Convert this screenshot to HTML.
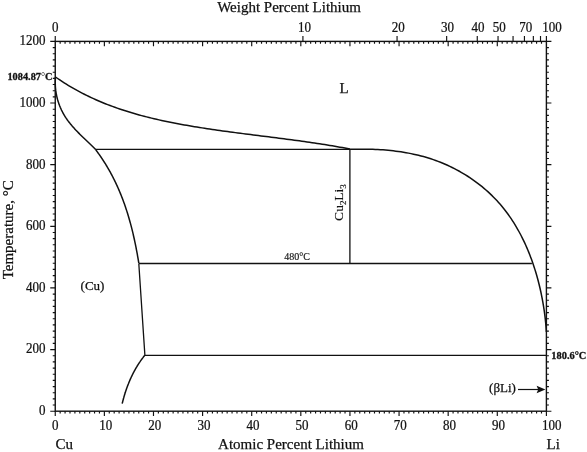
<!DOCTYPE html><html><head><meta charset="utf-8"><style>html,body{margin:0;padding:0;background:#fff;}svg{display:block;}text{font-family:"Liberation Serif", "Times New Roman", serif;fill:#111;}</style></head><body>
<svg width="587" height="452" viewBox="0 0 587 452">
<rect width="587" height="452" fill="#fff"/>
<g>
<path d="M55.25 411.20v4.80 M60.16 411.20v2.40 M60.16 41.40v2.40 M65.07 411.20v2.40 M65.07 41.40v2.40 M69.98 411.20v2.40 M69.98 41.40v2.40 M74.90 411.20v2.40 M74.90 41.40v2.40 M79.81 411.20v2.40 M79.81 41.40v2.40 M84.72 411.20v2.40 M84.72 41.40v2.40 M89.63 411.20v2.40 M89.63 41.40v2.40 M94.54 411.20v2.40 M94.54 41.40v2.40 M99.45 411.20v2.40 M99.45 41.40v2.40 M104.37 411.20v4.80 M104.37 41.40v4.80 M109.28 411.20v2.40 M109.28 41.40v2.40 M114.19 411.20v2.40 M114.19 41.40v2.40 M119.10 411.20v2.40 M119.10 41.40v2.40 M124.01 411.20v2.40 M124.01 41.40v2.40 M128.92 411.20v2.40 M128.92 41.40v2.40 M133.83 411.20v2.40 M133.83 41.40v2.40 M138.75 411.20v2.40 M138.75 41.40v2.40 M143.66 411.20v2.40 M143.66 41.40v2.40 M148.57 411.20v2.40 M148.57 41.40v2.40 M153.48 411.20v4.80 M153.48 41.40v4.80 M158.39 411.20v2.40 M158.39 41.40v2.40 M163.30 411.20v2.40 M163.30 41.40v2.40 M168.21 411.20v2.40 M168.21 41.40v2.40 M173.13 411.20v2.40 M173.13 41.40v2.40 M178.04 411.20v2.40 M178.04 41.40v2.40 M182.95 411.20v2.40 M182.95 41.40v2.40 M187.86 411.20v2.40 M187.86 41.40v2.40 M192.77 411.20v2.40 M192.77 41.40v2.40 M197.68 411.20v2.40 M197.68 41.40v2.40 M202.59 411.20v4.80 M202.59 41.40v4.80 M207.51 411.20v2.40 M207.51 41.40v2.40 M212.42 411.20v2.40 M212.42 41.40v2.40 M217.33 411.20v2.40 M217.33 41.40v2.40 M222.24 411.20v2.40 M222.24 41.40v2.40 M227.15 411.20v2.40 M227.15 41.40v2.40 M232.06 411.20v2.40 M232.06 41.40v2.40 M236.98 411.20v2.40 M236.98 41.40v2.40 M241.89 411.20v2.40 M241.89 41.40v2.40 M246.80 411.20v2.40 M246.80 41.40v2.40 M251.71 411.20v4.80 M251.71 41.40v4.80 M256.62 411.20v2.40 M256.62 41.40v2.40 M261.53 411.20v2.40 M261.53 41.40v2.40 M266.44 411.20v2.40 M266.44 41.40v2.40 M271.36 411.20v2.40 M271.36 41.40v2.40 M276.27 411.20v2.40 M276.27 41.40v2.40 M281.18 411.20v2.40 M281.18 41.40v2.40 M286.09 411.20v2.40 M286.09 41.40v2.40 M291.00 411.20v2.40 M291.00 41.40v2.40 M295.91 411.20v2.40 M295.91 41.40v2.40 M300.82 411.20v4.80 M300.82 41.40v4.80 M305.74 411.20v2.40 M305.74 41.40v2.40 M310.65 411.20v2.40 M310.65 41.40v2.40 M315.56 411.20v2.40 M315.56 41.40v2.40 M320.47 411.20v2.40 M320.47 41.40v2.40 M325.38 411.20v2.40 M325.38 41.40v2.40 M330.29 411.20v2.40 M330.29 41.40v2.40 M335.21 411.20v2.40 M335.21 41.40v2.40 M340.12 411.20v2.40 M340.12 41.40v2.40 M345.03 411.20v2.40 M345.03 41.40v2.40 M349.94 411.20v4.80 M349.94 41.40v4.80 M354.85 411.20v2.40 M354.85 41.40v2.40 M359.76 411.20v2.40 M359.76 41.40v2.40 M364.67 411.20v2.40 M364.67 41.40v2.40 M369.59 411.20v2.40 M369.59 41.40v2.40 M374.50 411.20v2.40 M374.50 41.40v2.40 M379.41 411.20v2.40 M379.41 41.40v2.40 M384.32 411.20v2.40 M384.32 41.40v2.40 M389.23 411.20v2.40 M389.23 41.40v2.40 M394.14 411.20v2.40 M394.14 41.40v2.40 M399.06 411.20v4.80 M399.06 41.40v4.80 M403.97 411.20v2.40 M403.97 41.40v2.40 M408.88 411.20v2.40 M408.88 41.40v2.40 M413.79 411.20v2.40 M413.79 41.40v2.40 M418.70 411.20v2.40 M418.70 41.40v2.40 M423.61 411.20v2.40 M423.61 41.40v2.40 M428.52 411.20v2.40 M428.52 41.40v2.40 M433.44 411.20v2.40 M433.44 41.40v2.40 M438.35 411.20v2.40 M438.35 41.40v2.40 M443.26 411.20v2.40 M443.26 41.40v2.40 M448.17 411.20v4.80 M448.17 41.40v4.80 M453.08 411.20v2.40 M453.08 41.40v2.40 M457.99 411.20v2.40 M457.99 41.40v2.40 M462.90 411.20v2.40 M462.90 41.40v2.40 M467.82 411.20v2.40 M467.82 41.40v2.40 M472.73 411.20v2.40 M472.73 41.40v2.40 M477.64 411.20v2.40 M477.64 41.40v2.40 M482.55 411.20v2.40 M482.55 41.40v2.40 M487.46 411.20v2.40 M487.46 41.40v2.40 M492.37 411.20v2.40 M492.37 41.40v2.40 M497.29 411.20v4.80 M497.29 41.40v4.80 M502.20 411.20v2.40 M502.20 41.40v2.40 M507.11 411.20v2.40 M507.11 41.40v2.40 M512.02 411.20v2.40 M512.02 41.40v2.40 M516.93 411.20v2.40 M516.93 41.40v2.40 M521.84 411.20v2.40 M521.84 41.40v2.40 M526.75 411.20v2.40 M526.75 41.40v2.40 M531.67 411.20v2.40 M531.67 41.40v2.40 M536.58 411.20v2.40 M536.58 41.40v2.40 M541.49 411.20v2.40 M541.49 41.40v2.40 M546.40 411.20v4.80 M55.25 41.40v-5.40 M302.92 41.40v-5.40 M397.06 41.40v-5.40 M446.65 41.40v-5.40 M477.26 41.40v-5.40 M498.04 41.40v-5.40 M513.06 41.40v-5.40 M524.44 41.40v-5.40 M533.34 41.40v-5.40 M540.51 41.40v-5.40 M546.40 41.40v-5.40 M55.25 411.20h-5.00 M546.40 411.20h5.00 M55.25 405.04h-2.50 M546.40 405.04h2.50 M55.25 398.87h-2.50 M546.40 398.87h2.50 M55.25 392.71h-2.50 M546.40 392.71h2.50 M55.25 386.55h-2.50 M546.40 386.55h2.50 M55.25 380.38h-2.50 M546.40 380.38h2.50 M55.25 374.22h-2.50 M546.40 374.22h2.50 M55.25 368.06h-2.50 M546.40 368.06h2.50 M55.25 361.89h-2.50 M546.40 361.89h2.50 M55.25 355.73h-2.50 M546.40 355.73h2.50 M55.25 349.57h-5.00 M546.40 349.57h5.00 M55.25 343.40h-2.50 M546.40 343.40h2.50 M55.25 337.24h-2.50 M546.40 337.24h2.50 M55.25 331.08h-2.50 M546.40 331.08h2.50 M55.25 324.91h-2.50 M546.40 324.91h2.50 M55.25 318.75h-2.50 M546.40 318.75h2.50 M55.25 312.59h-2.50 M546.40 312.59h2.50 M55.25 306.42h-2.50 M546.40 306.42h2.50 M55.25 300.26h-2.50 M546.40 300.26h2.50 M55.25 294.10h-2.50 M546.40 294.10h2.50 M55.25 287.93h-5.00 M546.40 287.93h5.00 M55.25 281.77h-2.50 M546.40 281.77h2.50 M55.25 275.61h-2.50 M546.40 275.61h2.50 M55.25 269.44h-2.50 M546.40 269.44h2.50 M55.25 263.28h-2.50 M546.40 263.28h2.50 M55.25 257.12h-2.50 M546.40 257.12h2.50 M55.25 250.95h-2.50 M546.40 250.95h2.50 M55.25 244.79h-2.50 M546.40 244.79h2.50 M55.25 238.63h-2.50 M546.40 238.63h2.50 M55.25 232.46h-2.50 M546.40 232.46h2.50 M55.25 226.30h-5.00 M546.40 226.30h5.00 M55.25 220.14h-2.50 M546.40 220.14h2.50 M55.25 213.97h-2.50 M546.40 213.97h2.50 M55.25 207.81h-2.50 M546.40 207.81h2.50 M55.25 201.65h-2.50 M546.40 201.65h2.50 M55.25 195.48h-2.50 M546.40 195.48h2.50 M55.25 189.32h-2.50 M546.40 189.32h2.50 M55.25 183.16h-2.50 M546.40 183.16h2.50 M55.25 176.99h-2.50 M546.40 176.99h2.50 M55.25 170.83h-2.50 M546.40 170.83h2.50 M55.25 164.67h-5.00 M546.40 164.67h5.00 M55.25 158.50h-2.50 M546.40 158.50h2.50 M55.25 152.34h-2.50 M546.40 152.34h2.50 M55.25 146.18h-2.50 M546.40 146.18h2.50 M55.25 140.01h-2.50 M546.40 140.01h2.50 M55.25 133.85h-2.50 M546.40 133.85h2.50 M55.25 127.69h-2.50 M546.40 127.69h2.50 M55.25 121.52h-2.50 M546.40 121.52h2.50 M55.25 115.36h-2.50 M546.40 115.36h2.50 M55.25 109.20h-2.50 M546.40 109.20h2.50 M55.25 103.03h-5.00 M546.40 103.03h5.00 M55.25 96.87h-2.50 M546.40 96.87h2.50 M55.25 90.71h-2.50 M546.40 90.71h2.50 M55.25 84.54h-2.50 M546.40 84.54h2.50 M55.25 78.38h-2.50 M546.40 78.38h2.50 M55.25 72.22h-2.50 M546.40 72.22h2.50 M55.25 66.05h-2.50 M546.40 66.05h2.50 M55.25 59.89h-2.50 M546.40 59.89h2.50 M55.25 53.73h-2.50 M546.40 53.73h2.50 M55.25 47.56h-2.50 M546.40 47.56h2.50 M55.25 41.40h-5.00 M546.40 41.40h5.00" stroke="#111" stroke-width="1.15" fill="none"/>
<rect x="55.25" y="41.40" width="491.15" height="369.80" fill="none" stroke="#111" stroke-width="1.4"/>
<path d="M55.50 77.00L57.65 78.50L59.81 79.97L61.98 81.41L64.17 82.82L66.37 84.20L68.57 85.56L70.79 86.88L73.02 88.18L75.27 89.45L77.52 90.70L79.78 91.91L82.05 93.11L84.33 94.27L86.62 95.41L88.93 96.53L91.24 97.62L93.56 98.69L95.88 99.73L98.22 100.75L100.57 101.75L102.92 102.72L105.29 103.68L107.66 104.61L110.04 105.52L112.43 106.41L114.82 107.28L117.22 108.13L119.63 108.95L122.05 109.76L124.47 110.56L126.90 111.33L129.34 112.08L131.78 112.82L134.23 113.54L136.69 114.24L139.15 114.93L141.62 115.60L144.09 116.25L146.57 116.89L149.05 117.51L151.54 118.12L154.03 118.72L156.53 119.30L159.03 119.87L161.54 120.42L164.05 120.97L166.56 121.50L169.08 122.02L171.60 122.52L174.13 123.02L176.65 123.51L179.18 123.98L181.72 124.45L184.25 124.91L186.79 125.36L189.33 125.80L191.88 126.23L194.42 126.65L196.97 127.07L199.52 127.48L202.06 127.88L204.62 128.28L207.17 128.66L209.72 129.05L212.28 129.43L214.83 129.80L217.39 130.17L219.95 130.53L222.51 130.89L225.07 131.24L227.63 131.59L230.19 131.94L232.75 132.28L235.32 132.62L237.88 132.96L240.44 133.29L243.01 133.62L245.57 133.95L248.13 134.28L250.70 134.60L253.26 134.93L255.83 135.25L258.39 135.57L260.95 135.89L263.52 136.22L266.08 136.54L268.64 136.86L271.20 137.18L273.77 137.51L276.33 137.83L278.89 138.16L281.44 138.49L284.00 138.82L286.56 139.15L289.11 139.49L291.67 139.82L294.22 140.16L296.77 140.51L299.32 140.86L301.87 141.21L304.42 141.56L306.96 141.93L309.51 142.29L312.05 142.66L314.59 143.04L317.13 143.42L319.66 143.80L322.20 144.20L324.73 144.60L327.26 145.00L329.78 145.42L332.31 145.84L334.83 146.26L337.35 146.70L339.86 147.14L342.38 147.60L344.89 148.06L347.39 148.53L349.90 149.00" stroke="#111" stroke-width="1.50" fill="none" stroke-linejoin="round"/>
<path d="M55.50 77.00L55.44 77.74L55.39 78.48L55.34 79.23L55.31 79.97L55.28 80.71L55.27 81.44L55.26 82.18L55.26 82.92L55.26 83.65L55.28 84.39L55.31 85.12L55.34 85.85L55.38 86.58L55.43 87.31L55.49 88.03L55.56 88.76L55.63 89.48L55.71 90.20L55.81 90.92L55.90 91.64L56.01 92.35L56.13 93.07L56.25 93.78L56.38 94.49L56.52 95.20L56.67 95.90L56.82 96.60L56.99 97.30L57.16 98.00L57.34 98.70L57.52 99.39L57.72 100.08L57.92 100.77L58.13 101.46L58.35 102.14L58.57 102.82L58.80 103.50L59.04 104.17L59.29 104.85L59.54 105.52L59.81 106.18L60.08 106.84L60.35 107.50L60.64 108.16L60.93 108.81L61.23 109.46L61.53 110.11L61.85 110.75L62.17 111.39L62.50 112.03L62.83 112.66L63.17 113.29L63.52 113.92L63.88 114.54L64.24 115.15L64.61 115.77L64.98 116.38L65.37 116.98L65.76 117.59L66.16 118.18L66.56 118.78L66.97 119.37L67.38 119.96L67.81 120.54L68.23 121.12L68.67 121.69L69.11 122.27L69.55 122.83L70.00 123.40L70.45 123.96L70.91 124.52L71.38 125.08L71.84 125.63L72.32 126.18L72.79 126.73L73.28 127.28L73.76 127.82L74.25 128.36L74.74 128.90L75.24 129.43L75.73 129.97L76.24 130.50L76.74 131.03L77.25 131.55L77.76 132.08L78.27 132.60L78.78 133.12L79.30 133.64L79.82 134.16L80.34 134.67L80.86 135.19L81.38 135.70L81.90 136.21L82.43 136.72L82.96 137.23L83.48 137.74L84.01 138.25L84.54 138.75L85.06 139.26L85.59 139.76L86.12 140.26L86.65 140.77L87.17 141.27L87.70 141.77L88.22 142.27L88.75 142.78L89.27 143.28L89.79 143.78L90.31 144.28L90.83 144.78L91.35 145.28L91.86 145.78L92.38 146.28L92.89 146.78L93.40 147.29L93.90 147.79L94.40 148.29L94.90 148.79L95.40 149.30" stroke="#111" stroke-width="1.50" fill="none" stroke-linejoin="round"/>
<path d="M95.40 149.30L96.04 150.15L96.67 151.00L97.30 151.85L97.92 152.70L98.53 153.56L99.14 154.42L99.75 155.28L100.34 156.14L100.94 157.00L101.52 157.87L102.10 158.73L102.68 159.60L103.24 160.48L103.81 161.35L104.37 162.23L104.92 163.10L105.46 163.98L106.01 164.87L106.54 165.75L107.07 166.64L107.60 167.52L108.12 168.41L108.63 169.31L109.14 170.20L109.64 171.10L110.14 171.99L110.64 172.89L111.13 173.79L111.61 174.70L112.09 175.60L112.56 176.51L113.03 177.42L113.49 178.33L113.95 179.24L114.41 180.16L114.86 181.07L115.30 181.99L115.74 182.91L116.17 183.83L116.60 184.76L117.03 185.68L117.45 186.61L117.87 187.54L118.28 188.47L118.69 189.41L119.09 190.34L119.49 191.28L119.88 192.22L120.27 193.16L120.66 194.10L121.04 195.04L121.42 195.99L121.79 196.94L122.16 197.89L122.52 198.84L122.88 199.79L123.24 200.74L123.59 201.70L123.94 202.66L124.28 203.62L124.62 204.58L124.96 205.54L125.29 206.51L125.62 207.47L125.94 208.44L126.26 209.41L126.58 210.38L126.89 211.36L127.20 212.33L127.51 213.31L127.81 214.29L128.11 215.27L128.41 216.25L128.70 217.23L128.99 218.22L129.27 219.21L129.56 220.19L129.83 221.18L130.11 222.18L130.38 223.17L130.65 224.16L130.91 225.16L131.18 226.16L131.44 227.16L131.69 228.16L131.95 229.16L132.20 230.17L132.44 231.17L132.69 232.18L132.93 233.19L133.17 234.20L133.40 235.21L133.63 236.22L133.86 237.24L134.09 238.26L134.31 239.28L134.54 240.29L134.75 241.32L134.97 242.34L135.18 243.36L135.40 244.39L135.60 245.42L135.81 246.44L136.01 247.47L136.22 248.51L136.41 249.54L136.61 250.57L136.81 251.61L137.00 252.65L137.19 253.69L137.38 254.73L137.56 255.77L137.74 256.81L137.93 257.86L138.10 258.90L138.28 259.95L138.46 261.00L138.63 262.05L138.80 263.10" stroke="#111" stroke-width="1.50" fill="none" stroke-linejoin="round"/>
<path d="M349.90 149.35L352.42 149.27L354.95 149.21L357.48 149.17L360.02 149.14L362.56 149.14L365.11 149.15L367.66 149.18L370.22 149.24L372.77 149.32L375.33 149.42L377.89 149.55L380.46 149.70L383.02 149.87L385.58 150.07L388.14 150.30L390.70 150.55L393.25 150.83L395.80 151.14L398.35 151.47L400.90 151.84L403.44 152.24L405.97 152.67L408.50 153.13L411.01 153.62L413.53 154.15L416.03 154.71L418.52 155.30L421.01 155.93L423.48 156.59L425.95 157.30L428.40 158.03L430.84 158.81L433.26 159.62L435.68 160.48L438.08 161.37L440.46 162.29L442.83 163.26L445.18 164.26L447.52 165.30L449.83 166.37L452.13 167.49L454.42 168.63L456.68 169.82L458.92 171.03L461.14 172.29L463.34 173.57L465.52 174.90L467.67 176.25L469.81 177.65L471.91 179.07L474.00 180.53L476.05 182.02L478.09 183.55L480.09 185.11L482.07 186.70L484.02 188.32L485.94 189.98L487.84 191.66L489.70 193.38L491.53 195.13L493.33 196.91L495.10 198.72L496.84 200.57L498.54 202.44L500.21 204.34L501.85 206.27L503.45 208.23L505.02 210.22L506.56 212.24L508.06 214.28L509.53 216.35L510.97 218.45L512.37 220.57L513.74 222.71L515.09 224.87L516.40 227.06L517.67 229.27L518.92 231.50L520.14 233.75L521.32 236.02L522.48 238.30L523.61 240.61L524.70 242.93L525.77 245.27L526.81 247.62L527.82 249.99L528.80 252.37L529.75 254.77L530.67 257.17L531.57 259.59L532.44 262.02L533.28 264.46L534.09 266.91L534.88 269.37L535.64 271.84L536.38 274.31L537.09 276.79L537.77 279.27L538.43 281.77L539.06 284.26L539.67 286.76L540.25 289.26L540.81 291.77L541.34 294.28L541.85 296.79L542.33 299.30L542.79 301.82L543.22 304.33L543.63 306.85L544.02 309.37L544.38 311.89L544.72 314.41L545.03 316.92L545.32 319.44L545.58 321.96L545.82 324.47L546.04 326.98L546.23 329.49L546.40 332.00" stroke="#111" stroke-width="1.50" fill="none" stroke-linejoin="round"/>
<path d="M144.90 355.10L144.61 355.46L144.33 355.81L144.05 356.17L143.77 356.53L143.49 356.89L143.21 357.25L142.94 357.62L142.66 357.98L142.39 358.34L142.12 358.71L141.85 359.08L141.58 359.45L141.32 359.82L141.06 360.19L140.80 360.56L140.54 360.93L140.28 361.31L140.02 361.68L139.77 362.06L139.51 362.43L139.26 362.81L139.01 363.19L138.77 363.57L138.52 363.95L138.28 364.33L138.03 364.72L137.79 365.10L137.55 365.48L137.32 365.87L137.08 366.26L136.85 366.65L136.61 367.03L136.38 367.42L136.15 367.81L135.92 368.21L135.70 368.60L135.47 368.99L135.25 369.39L135.03 369.78L134.81 370.18L134.59 370.57L134.38 370.97L134.16 371.37L133.95 371.77L133.74 372.17L133.53 372.57L133.32 372.97L133.11 373.38L132.91 373.78L132.70 374.19L132.50 374.59L132.30 375.00L132.10 375.40L131.90 375.81L131.71 376.22L131.51 376.63L131.32 377.04L131.13 377.45L130.94 377.86L130.75 378.27L130.57 378.69L130.38 379.10L130.20 379.51L130.02 379.93L129.83 380.34L129.66 380.76L129.48 381.18L129.30 381.60L129.13 382.01L128.95 382.43L128.78 382.85L128.61 383.27L128.44 383.69L128.28 384.12L128.11 384.54L127.95 384.96L127.78 385.38L127.62 385.81L127.46 386.23L127.30 386.66L127.15 387.08L126.99 387.51L126.84 387.94L126.69 388.36L126.53 388.79L126.38 389.22L126.24 389.65L126.09 390.08L125.94 390.51L125.80 390.94L125.66 391.37L125.51 391.80L125.37 392.23L125.23 392.66L125.10 393.10L124.96 393.53L124.83 393.96L124.69 394.40L124.56 394.83L124.43 395.27L124.30 395.70L124.17 396.14L124.05 396.57L123.92 397.01L123.80 397.45L123.68 397.89L123.55 398.32L123.43 398.76L123.32 399.20L123.20 399.64L123.08 400.08L122.97 400.52L122.85 400.96L122.74 401.40L122.63 401.84L122.52 402.28L122.41 402.72L122.31 403.16L122.20 403.60" stroke="#111" stroke-width="1.50" fill="none" stroke-linejoin="round"/>
<path d="M95.4 149.35H349.9 M138.8 263.50H531.9 M144.9 355.40H546.40 M349.9 149.35V263.50 M138.8 263.50L144.9 355.40" stroke="#111" stroke-width="1.30" fill="none"/>
<path d="M518 389.5H539" stroke="#111" stroke-width="1.2"/>
<path d="M545.4 389.5L536.6 385.7L538.2 389.5L536.6 393.2Z" fill="#111"/>
</g>
<text transform="translate(45.40 415.10) scale(0.930 1.000)" font-size="14" text-anchor="end" font-weight="normal" stroke="#111" stroke-width="0.25">0</text>
<text transform="translate(45.40 353.47) scale(0.930 1.000)" font-size="14" text-anchor="end" font-weight="normal" stroke="#111" stroke-width="0.25">200</text>
<text transform="translate(45.40 291.83) scale(0.930 1.000)" font-size="14" text-anchor="end" font-weight="normal" stroke="#111" stroke-width="0.25">400</text>
<text transform="translate(45.40 230.20) scale(0.930 1.000)" font-size="14" text-anchor="end" font-weight="normal" stroke="#111" stroke-width="0.25">600</text>
<text transform="translate(45.40 168.57) scale(0.930 1.000)" font-size="14" text-anchor="end" font-weight="normal" stroke="#111" stroke-width="0.25">800</text>
<text transform="translate(45.40 106.93) scale(0.930 1.000)" font-size="14" text-anchor="end" font-weight="normal" stroke="#111" stroke-width="0.25">1000</text>
<text transform="translate(45.40 45.30) scale(0.930 1.000)" font-size="14" text-anchor="end" font-weight="normal" stroke="#111" stroke-width="0.25">1200</text>
<text transform="translate(55.35 429.60) scale(0.930 1.000)" font-size="14" text-anchor="middle" font-weight="normal" stroke="#111" stroke-width="0.25">0</text>
<text transform="translate(105.67 429.60) scale(0.930 1.000)" font-size="14" text-anchor="middle" font-weight="normal" stroke="#111" stroke-width="0.25">10</text>
<text transform="translate(154.78 429.60) scale(0.930 1.000)" font-size="14" text-anchor="middle" font-weight="normal" stroke="#111" stroke-width="0.25">20</text>
<text transform="translate(203.90 429.60) scale(0.930 1.000)" font-size="14" text-anchor="middle" font-weight="normal" stroke="#111" stroke-width="0.25">30</text>
<text transform="translate(253.01 429.60) scale(0.930 1.000)" font-size="14" text-anchor="middle" font-weight="normal" stroke="#111" stroke-width="0.25">40</text>
<text transform="translate(302.12 429.60) scale(0.930 1.000)" font-size="14" text-anchor="middle" font-weight="normal" stroke="#111" stroke-width="0.25">50</text>
<text transform="translate(351.24 429.60) scale(0.930 1.000)" font-size="14" text-anchor="middle" font-weight="normal" stroke="#111" stroke-width="0.25">60</text>
<text transform="translate(400.36 429.60) scale(0.930 1.000)" font-size="14" text-anchor="middle" font-weight="normal" stroke="#111" stroke-width="0.25">70</text>
<text transform="translate(449.47 429.60) scale(0.930 1.000)" font-size="14" text-anchor="middle" font-weight="normal" stroke="#111" stroke-width="0.25">80</text>
<text transform="translate(498.59 429.60) scale(0.930 1.000)" font-size="14" text-anchor="middle" font-weight="normal" stroke="#111" stroke-width="0.25">90</text>
<text transform="translate(551.80 429.60) scale(0.930 1.000)" font-size="14" text-anchor="middle" font-weight="normal" stroke="#111" stroke-width="0.25">100</text>
<text transform="translate(55.35 32.20) scale(0.930 1.000)" font-size="14" text-anchor="middle" font-weight="normal" stroke="#111" stroke-width="0.25">0</text>
<text transform="translate(304.62 32.20) scale(0.930 1.000)" font-size="14" text-anchor="middle" font-weight="normal" stroke="#111" stroke-width="0.25">10</text>
<text transform="translate(398.16 32.20) scale(0.930 1.000)" font-size="14" text-anchor="middle" font-weight="normal" stroke="#111" stroke-width="0.25">20</text>
<text transform="translate(447.55 32.20) scale(0.930 1.000)" font-size="14" text-anchor="middle" font-weight="normal" stroke="#111" stroke-width="0.25">30</text>
<text transform="translate(477.96 32.20) scale(0.930 1.000)" font-size="14" text-anchor="middle" font-weight="normal" stroke="#111" stroke-width="0.25">40</text>
<text transform="translate(499.34 32.20) scale(0.930 1.000)" font-size="14" text-anchor="middle" font-weight="normal" stroke="#111" stroke-width="0.25">50</text>
<text transform="translate(525.84 32.20) scale(0.930 1.000)" font-size="14" text-anchor="middle" font-weight="normal" stroke="#111" stroke-width="0.25">70</text>
<text transform="translate(551.90 32.20) scale(0.930 1.000)" font-size="14" text-anchor="middle" font-weight="normal" stroke="#111" stroke-width="0.25">100</text>
<text transform="translate(289.00 12.00) scale(1.000 1.000)" font-size="15" text-anchor="middle" font-weight="normal" stroke="#111" stroke-width="0.25">Weight Percent Lithium</text>
<text transform="translate(291.00 449.00) scale(1.000 1.000)" font-size="15" text-anchor="middle" font-weight="normal" stroke="#111" stroke-width="0.25">Atomic Percent Lithium</text>
<text transform="translate(55.50 449.00) scale(1.000 1.000)" font-size="15" text-anchor="start" font-weight="normal" stroke="#111" stroke-width="0.25">Cu</text>
<text transform="translate(546.50 449.00) scale(1.000 1.000)" font-size="15" text-anchor="start" font-weight="normal" stroke="#111" stroke-width="0.25">Li</text>
<text transform="translate(12.6 229.8) rotate(-90)" font-size="15" text-anchor="middle" stroke="#111" stroke-width="0.25">Temperature, °C</text>
<text transform="translate(344.00 93.00) scale(1.000 1.000)" font-size="15" text-anchor="middle" font-weight="normal" stroke="#111" stroke-width="0.25">L</text>
<text transform="translate(92.50 289.60) scale(1.000 1.000)" font-size="13" text-anchor="middle" font-weight="normal" stroke="#111" stroke-width="0.25">(Cu)</text>
<text transform="translate(502.50 391.70) scale(1.000 1.000)" font-size="13" text-anchor="middle" font-weight="normal" stroke="#111" stroke-width="0.25">(βLi)</text>
<text transform="translate(297.00 260.00) scale(1.000 1.000)" font-size="10" text-anchor="middle" font-weight="normal" stroke="#111" stroke-width="0.15">480°C</text>
<text transform="translate(52.50 80.00) scale(1.000 1.000)" font-size="10.3" text-anchor="end" font-weight="bold" stroke="#111" stroke-width="0.30">1084.87<tspan font-weight="normal" stroke-width="0">°</tspan>C</text>
<text transform="translate(551.30 359.00) scale(1.000 1.000)" font-size="10.4" text-anchor="start" font-weight="bold" stroke="#111" stroke-width="0.30">180.6°C</text>
<text transform="translate(342.8 202.5) rotate(-90)" font-size="13.5" text-anchor="middle" stroke="#111" stroke-width="0.15">Cu<tspan font-size="9" dy="3">2</tspan><tspan dy="-3">Li</tspan><tspan font-size="9" dy="3">3</tspan></text>
</svg></body></html>
